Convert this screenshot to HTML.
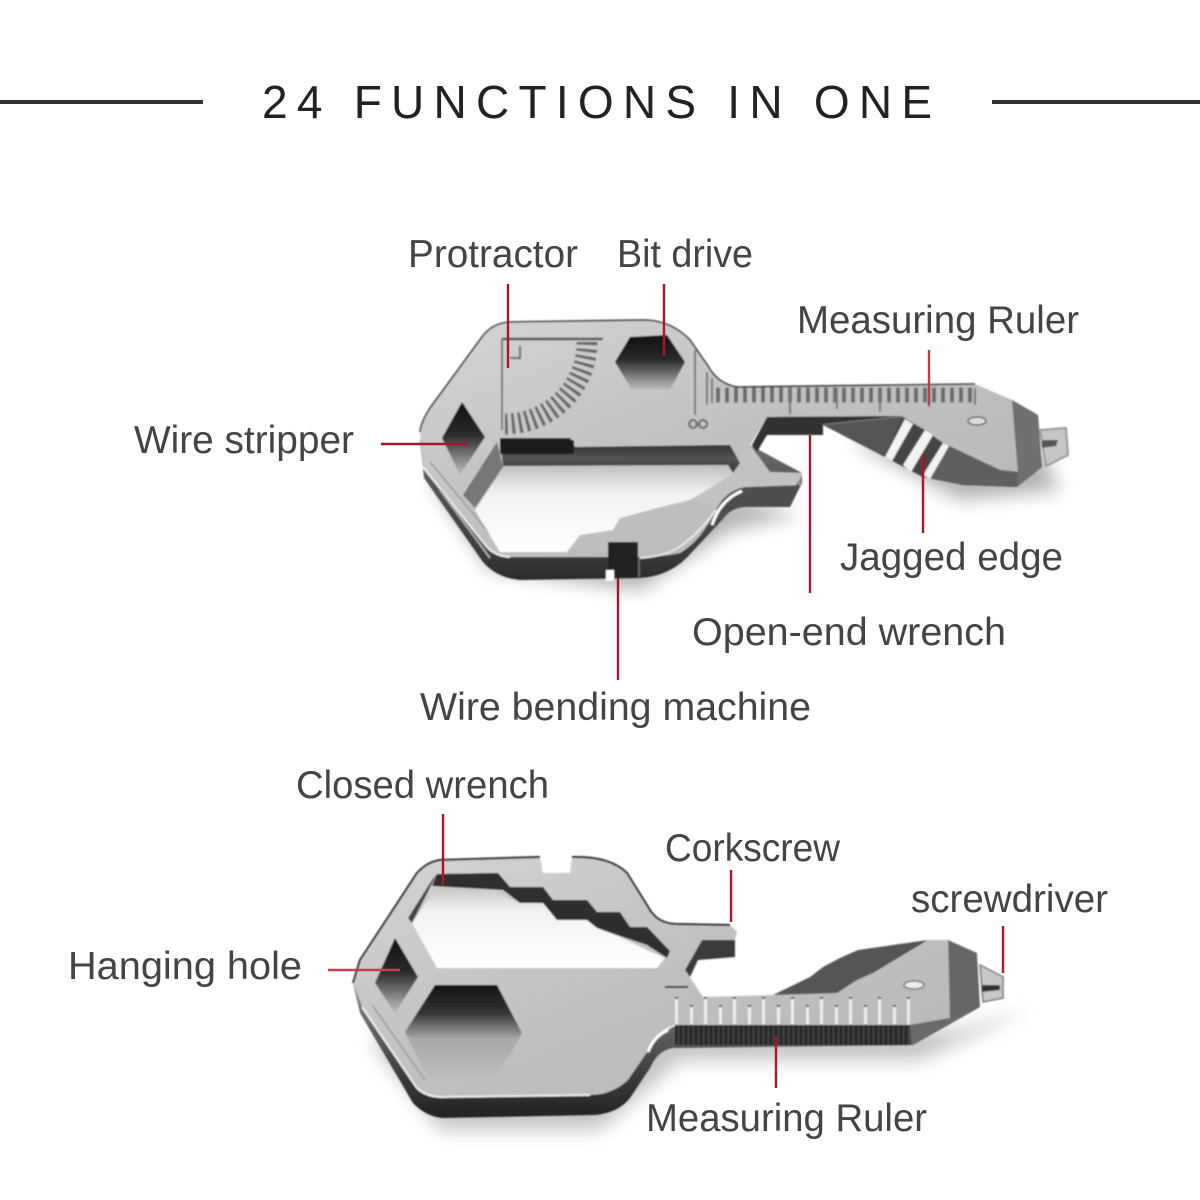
<!DOCTYPE html>
<html><head><meta charset="utf-8"><style>
html,body{margin:0;padding:0;background:#fff}
svg{display:block}
text{font-family:"Liberation Sans",sans-serif;fill:#444;font-size:39px}
</style></head><body>
<svg width="1200" height="1200" viewBox="0 0 1200 1200" xmlns="http://www.w3.org/2000/svg">
<defs>
<linearGradient id="face" x1="0" y1="0" x2="1" y2="1"><stop offset="0" stop-color="#d4d4d4"/><stop offset=".5" stop-color="#c0c0c0"/><stop offset="1" stop-color="#b6b6b6"/></linearGradient>
<linearGradient id="hole" x1="0" y1="0" x2="0" y2="1"><stop offset="0" stop-color="#111"/><stop offset=".45" stop-color="#2a2a2a"/><stop offset=".85" stop-color="#999"/><stop offset="1" stop-color="#bbb"/></linearGradient>
<linearGradient id="holeb" x1="0" y1="0" x2="0" y2="1"><stop offset="0" stop-color="#141414"/><stop offset=".3" stop-color="#333"/><stop offset=".58" stop-color="#a8a8a8"/><stop offset="1" stop-color="#bdbdbd"/></linearGradient>
<linearGradient id="dk" x1="0" y1="0" x2="0" y2="1"><stop offset="0" stop-color="#222"/><stop offset=".6" stop-color="#555"/><stop offset="1" stop-color="#333"/></linearGradient>
<linearGradient id="side" x1="0" y1="0" x2="0" y2="1"><stop offset="0" stop-color="#999"/><stop offset=".5" stop-color="#555"/><stop offset=".85" stop-color="#3c3c3c"/><stop offset="1" stop-color="#2a2a2a"/></linearGradient>
<linearGradient id="sideb" x1="0" y1="0" x2="0" y2="1"><stop offset="0" stop-color="#888"/><stop offset=".7" stop-color="#3a3a3a"/><stop offset="1" stop-color="#222"/></linearGradient>
<linearGradient id="inner" x1="0" y1="0" x2="0" y2="1"><stop offset="0" stop-color="#c4c4c4"/><stop offset=".3" stop-color="#f2f2f2"/><stop offset="1" stop-color="#fff"/></linearGradient>
<filter id="s" x="-20%" y="-20%" width="140%" height="140%"><feGaussianBlur stdDeviation="9"/></filter>
<filter id="b" x="-5%" y="-5%" width="110%" height="110%"><feGaussianBlur stdDeviation=".7"/></filter>
</defs>

<!-- header -->
<rect x="0" y="100" width="203" height="4" fill="#333"/>
<rect x="992" y="100" width="208" height="4" fill="#333"/>
<text x="262" y="118" style="font-size:46px;fill:#222" textLength="670" lengthAdjust="spacing">24 FUNCTIONS IN ONE</text>

<!-- TOP KEY -->
<path d="M430 480 L490 570 L640 590 L730 530 L800 515 L740 500 L700 500 Z M850 440 L960 500 L1060 490 L1040 450 Z" fill="#999" filter="url(#s)" opacity=".75"/>
<g filter="url(#b)">
<path d="M420 440 L424 478 L483 562 Q497 578 520 580 L640 578 Q672 576 692 552 L722 520 Q730 508 745 507 L790 507 L802 483 L802 473 L750 445 L767 417 L823 425 L885 457 L923 477 L963 485 L1017 487 L1042 467 L1038 415 L1012 400 L975 385 Z" fill="url(#side)"/>
<!-- key ring -->
<path d="M1040 430 L1066 428 L1068 455 L1046 466 Z" fill="#c6c6c6" stroke="#999" stroke-width="2"/>
<path d="M1042 440 L1058 440 L1056 446 L1042 448 Z" fill="#555"/>
<!-- face -->
<path d="M420 432 Q421 422 430 408 L482 337 Q492 323 510 322 L645 320 Q672 321 690 340 L708 366 Q718 384 737 387 L975 384 L1012 400 L1018 472 L1000 470 L943 443 L902 416 L767 417 L750 445 L770 472 L802 473 L800 485 L745 487 Q726 490 716 510 Q700 542 680 553 Q662 557 640 557 L510 557 Q495 556 487 547 L423 467 Z" fill="url(#face)"/>
<path d="M420 432 Q421 422 430 408 L482 337 Q492 323 510 322 L645 320 Q672 321 690 340 L708 366 Q718 384 737 387 L975 384" fill="none" stroke="#333" stroke-width="1.6"/>
<!-- rim highlights -->
<path d="M423 467 L487 547 Q495 556 510 557" fill="none" stroke="#eee" stroke-width="2"/>
<path d="M430 462 L495 540" fill="none" stroke="#999" stroke-width="1.5"/>
<path d="M640 558 Q668 556 682 545 Q700 532 716 510" fill="none" stroke="#e8e8e8" stroke-width="2"/>
<path d="M440 490 L490 558" fill="none" stroke="#aaa" stroke-width="2"/>
<!-- right side / tip -->
<path d="M1012 400 L1038 415 L1042 467 L1017 487 L1018 472 Z" fill="#6f6f6f"/>
<path d="M943 443 L1000 470 L1018 472 L1017 487 L963 485 L923 477 Z" fill="#5e5e5e"/>
<path d="M823 425 L902 417 L885 457 Z" fill="#555"/>
<path d="M902 417 L925 430 L943 443 L923 477 L885 457 Z" fill="#444"/>
<path d="M905 419 L913 424 L892 461 L885 457 Z" fill="#f2f2f2"/>
<path d="M925 430 L933 435 L911 472 L903 465 Z" fill="#f2f2f2"/>
<path d="M943 443 L949 446 L930 479 L923 475 Z" fill="#f2f2f2"/>
<!-- wrench slot -->
<path d="M767 417 L902 416 L823 424 L823 435 L767 435 L757 452 L752 445 Z" fill="#333"/>
<!-- white interior -->
<path d="M503 468 L733 468 L750 474 L770 472 L745 484 Q726 488 715 498 L690 500 L657 508 L620 518 L613 530 L580 535 L567 552 L500 552 L475 510 Z" fill="url(#inner)"/>
<!-- recover face tab right of interior -->
<path d="M733 466 L750 445 L770 472 L802 473 L800 485 L745 487 Q728 490 716 506 L690 500 L733 474 Z" fill="#c2c2c2"/>
<path d="M743 488 L795 487 L802 476 L790 507 L741 507 Q730 509 722 520 L712 528 Q722 500 743 488Z" fill="#4d4d4d"/>
<path d="M712 525 Q720 500 742 491" fill="none" stroke="#fff" stroke-width="3"/>
<!-- slot bevel -->
<path d="M497 442 L463 495 L475 508 L503 467 Z" fill="#777"/>
<path d="M500 438 L570 438 L575 447 L730 445 L740 463 L733 473 L728 465 L503 466 Z" fill="url(#dk)"/>
<rect x="500" y="440" width="74" height="14" fill="#1d1d1d"/>
<!-- protractor -->
<path d="M502 339 L603 339" stroke="#555" stroke-width="2.4"/>
<path d="M502 339 L502 430" stroke="#777" stroke-width="2"/>
<path d="M587 342 A82 82 0 0 1 505 424" fill="none" stroke="#666" stroke-width="21" stroke-dasharray="3 4"/>
<path d="M510 358 L520 358 L520 346" fill="none" stroke="#666" stroke-width="2"/>
<!-- holes -->
<path d="M630 337 L667 335 L685 362 L670 390 L632 390 L615 362 Z" fill="url(#hole)"/>
<path d="M462 402 L485 437 L460 475 L442 438 Z" fill="url(#hole)"/>
<!-- ruler ticks -->
<line x1="716" y1="395" x2="975" y2="395" stroke="#6a6a6a" stroke-width="15" stroke-dasharray="4 5"/>
<path d="M695 350 V415 M707 372 V405 M712 378 V403 M790 388 V414 M837 388 V409 M880 388 V412 M929 388 V407 M975 388 V405" stroke="#777" stroke-width="2"/>
<ellipse cx="693" cy="424" rx="4" ry="4" fill="none" stroke="#666" stroke-width="2"/>
<ellipse cx="703" cy="424" rx="4" ry="4" fill="none" stroke="#666" stroke-width="2"/>
<ellipse cx="977" cy="421" rx="9" ry="4" fill="#ddd" stroke="#666" stroke-width="1.6"/>
<!-- wire bender block -->
<rect x="608" y="542" width="30" height="36" fill="#222"/>
<rect x="638" y="557" width="2" height="20" fill="#666"/>
<rect x="606" y="570" width="8" height="11" fill="#fff"/>
</g>

<!-- BOTTOM KEY -->
<path d="M370 1040 L440 1130 L600 1130 L680 1060 L920 1060 L1030 1010 L960 1030 L680 1035 Z M430 900 L660 970 L440 960 Z" fill="#aaa" filter="url(#s)" opacity=".7"/>
<g filter="url(#b)">
<path d="M353 983 L360 1013 L413 1103 Q425 1116 442 1118 L595 1115 Q618 1113 630 1098 L650 1068 Q658 1050 673 1048 L913 1045 L980 1007 L950 1010 L673 1027 L620 1060 Z" fill="url(#sideb)"/>
<!-- jagged dark upper blade -->
<path d="M773 995 L810 977 L823 967 L840 958 L858 950 L928 940 L873 975 L857 982 L837 995 Z" fill="#555"/>
<!-- key ring -->
<path d="M980 965 L1003 977 L1003 998 L983 1002 Z" fill="#c8c8c8" stroke="#777" stroke-width="1.5"/>
<path d="M982 985 L1000 985 L1000 990 L982 992 Z" fill="#333"/>
<!-- face -->
<path d="M353 983 L360 960 L417 873 Q427 862 440 860 L540 857 L543 873 L570 873 L572 857 Q610 856 627 873 L650 910 Q658 923 675 924 L730 925 L737 932 L735 940 L702 940 L685 970 L703 997 L773 995 L837 993 L857 980 L873 973 L928 940 L948 940 L950 1018 L910 1025 L675 1025 Q660 1028 652 1045 L628 1080 Q612 1095 590 1095 L440 1097 Q425 1096 417 1088 L362 1007 Z" fill="url(#face)"/>
<path d="M353 983 L360 960 L417 873 Q427 862 440 860 L540 857 M572 857 Q610 856 627 873 L650 910 Q658 923 675 924 L730 925" fill="none" stroke="#222" stroke-width="2"/>
<path d="M362 1007 L417 1088 Q425 1096 440 1097 L590 1095" fill="none" stroke="#eee" stroke-width="2"/>
<path d="M372 1005 L425 1080" fill="none" stroke="#999" stroke-width="1.5"/>
<path d="M948 940 L977 953 L980 1007 L950 1018 Z" fill="#666"/>
<path d="M950 1018 L980 1007 L913 1045 L910 1025 Z" fill="#6a6a6a"/>
<!-- ruler band -->
<rect x="675" y="1025" width="235" height="20" fill="#3d3d3d"/>
<line x1="675" y1="1035" x2="910" y2="1035" stroke="#1c1c1c" stroke-width="20" stroke-dasharray="2 3"/>
<path d="M668 1030 Q654 1036 648 1052" fill="none" stroke="#fff" stroke-width="3"/>
<!-- ticks -->
<line x1="675" y1="1011" x2="915" y2="1011" stroke="#eee" stroke-width="26" stroke-dasharray="3 26"/>
<line x1="690" y1="1015" x2="915" y2="1015" stroke="#eee" stroke-width="18" stroke-dasharray="3 26"/>
<line x1="675" y1="998" x2="915" y2="998" stroke="#444" stroke-width="2" stroke-dasharray="3 26"/>
<line x1="690" y1="1006" x2="915" y2="1006" stroke="#444" stroke-width="2" stroke-dasharray="3 26"/>
<path d="M665 987 H688" stroke="#333" stroke-width="2"/>
<ellipse cx="914" cy="985" rx="10" ry="4" fill="#eee" stroke="#777" stroke-width="1.6"/>
<!-- wrench slot -->
<path d="M702 940 L735 940 L735 957 L698 960 L690 977 L685 970 Z" fill="#3a3a3a"/>
<!-- white interior -->
<path d="M412 923 L437 887 L480 886 L520 903 L543 903 L557 920 L590 920 L597 928 L620 937 L647 950 L665 958 L657 968 L437 968 Z" fill="url(#inner)"/>
<!-- jagged bevel -->
<path d="M437 874 L498 873 L510 887 L543 887 L553 900 L587 900 L597 912 L620 912 L630 927 L647 927 L670 951 L667 958 L647 945 L623 937 L597 928 L587 920 L557 920 L543 903 L520 903 L503 890 L432 886 Z" fill="#2e2e2e"/>
<path d="M437 874 L412 923 L408 918 L432 880 Z" fill="#444"/>
<!-- holes -->
<path d="M395 938 L418 977 L395 1013 L375 983 Z" fill="url(#hole)"/>
<path d="M435 985 L497 985 L522 1033 L497 1078 L428 1078 L405 1032 Z" fill="url(#holeb)"/>
</g>

<!-- connectors -->
<g stroke="#a5182b" stroke-width="2.4" fill="none">
<path d="M508 284 V368"/>
<path d="M664 284 V356"/>
<path d="M929 350 V405" stroke="#b7404f"/>
<path d="M381 444 H468"/>
<path d="M923 455 V533"/>
<path d="M810 435 V593"/>
<path d="M618 578 V680"/>
<path d="M443 814 V885"/>
<path d="M731 870 V922"/>
<path d="M1003 926 V973"/>
<path d="M328 970 H400" stroke="#c0414f"/>
<path d="M776 1037 V1088"/>
</g>

<!-- labels -->
<text x="408" y="267" textLength="170" lengthAdjust="spacingAndGlyphs">Protractor</text>
<text x="617" y="267" textLength="136" lengthAdjust="spacingAndGlyphs">Bit drive</text>
<text x="797" y="333" textLength="282" lengthAdjust="spacingAndGlyphs">Measuring Ruler</text>
<text x="134" y="453" textLength="220" lengthAdjust="spacingAndGlyphs">Wire stripper</text>
<text x="840" y="570" textLength="223" lengthAdjust="spacingAndGlyphs">Jagged edge</text>
<text x="692" y="645" textLength="314" lengthAdjust="spacingAndGlyphs">Open-end wrench</text>
<text x="420" y="720" textLength="391" lengthAdjust="spacingAndGlyphs">Wire bending machine</text>
<text x="296" y="798" textLength="253" lengthAdjust="spacingAndGlyphs">Closed wrench</text>
<text x="665" y="861" textLength="175" lengthAdjust="spacingAndGlyphs">Corkscrew</text>
<text x="911" y="912" textLength="197" lengthAdjust="spacingAndGlyphs">screwdriver</text>
<text x="68" y="979" textLength="234" lengthAdjust="spacingAndGlyphs">Hanging hole</text>
<text x="646" y="1131" textLength="281" lengthAdjust="spacingAndGlyphs">Measuring Ruler</text>
</svg>
</body></html>
